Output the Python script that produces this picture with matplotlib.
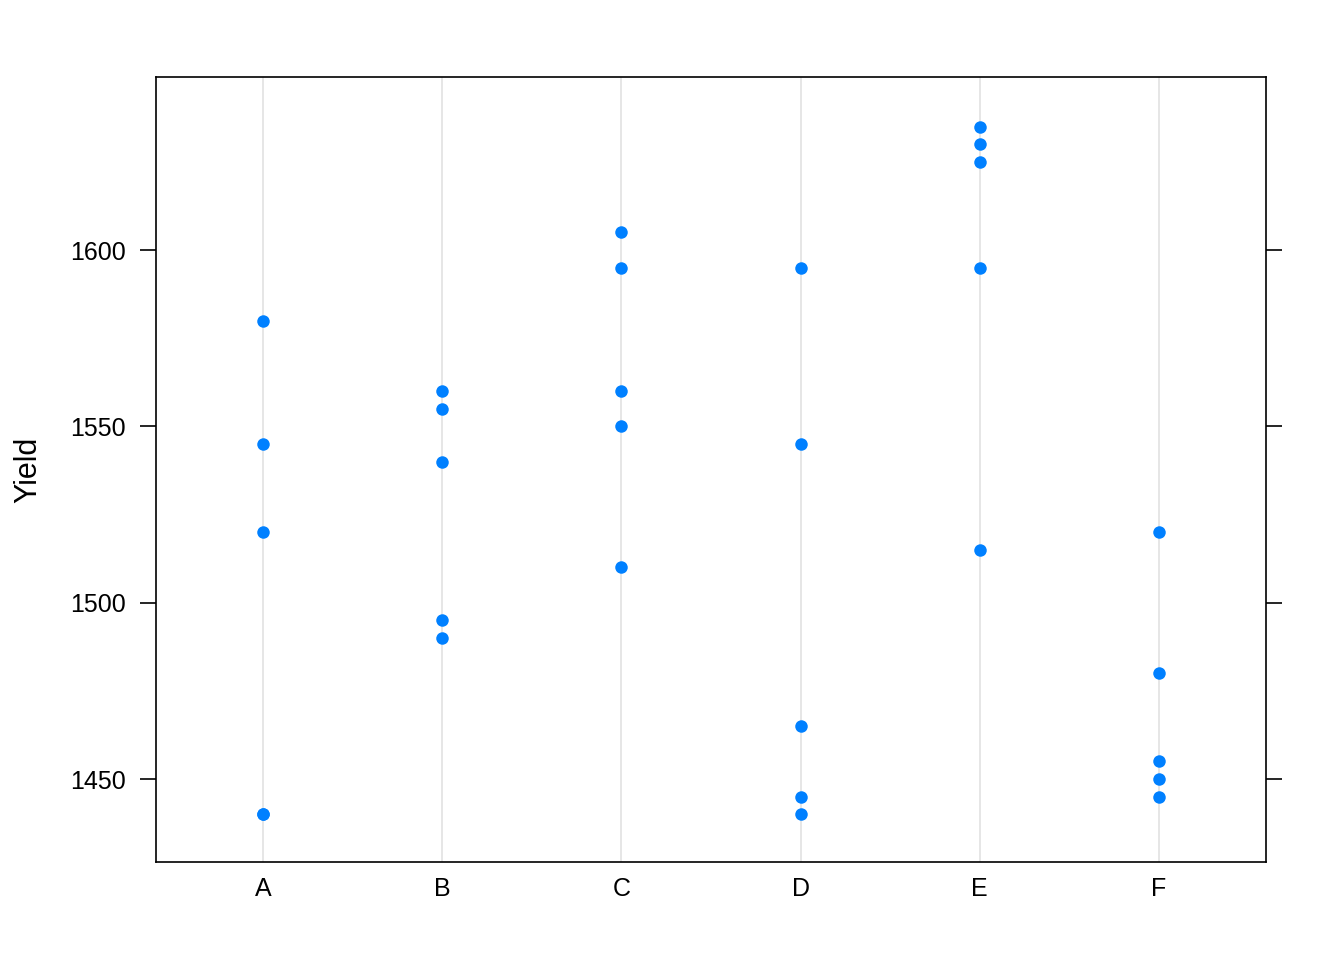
import matplotlib
matplotlib.use("Agg")
import matplotlib.pyplot as plt

plt.rcParams['font.family'] = ['Liberation Sans', 'DejaVu Sans']

batches = ['A', 'B', 'C', 'D', 'E', 'F']
yield_A = [1545, 1440, 1440, 1520, 1580]
yield_B = [1540, 1555, 1490, 1560, 1495]
yield_C = [1595, 1550, 1605, 1510, 1560]
yield_D = [1445, 1440, 1595, 1465, 1545]
yield_E = [1595, 1630, 1515, 1635, 1625]
yield_F = [1520, 1455, 1450, 1480, 1445]
yields = [yield_A, yield_B, yield_C, yield_D, yield_E, yield_F]
yticks = [1450, 1500, 1550, 1600]

fig = plt.figure(figsize=(13.44, 9.6), dpi=100)
ax = fig.add_axes([156/1344, 98/960, 1110/1344, 785/960])

for i, vals in enumerate(yields):
    ax.axvline(i + 1, color='#E6E6E6', lw=1.4, zorder=1)
    ax.plot([i + 1] * len(vals), vals, 'o', color='#0080FF', ms=9,
            mec='none', zorder=3)

ax.set_xlim(0.4, 6.6)
ax.set_ylim(1426.5, 1649.05)
ax.set_xticks(range(1, len(batches) + 1))
ax.set_xticklabels(batches)
ax.set_yticks(yticks)
ax.tick_params(axis='x', length=0, pad=11, labelsize=18)
ax.tick_params(axis='y', length=11.5, width=1.2, pad=10, labelsize=18,
               right=True, direction='out')
for s in ax.spines.values():
    s.set_linewidth(1.2)

ax.set_ylabel('Yield', fontsize=22)
ax.yaxis.label.set_va('center')
ax.yaxis.set_label_coords(-0.115, 0.5)

fig.savefig('out.png', dpi=100)
